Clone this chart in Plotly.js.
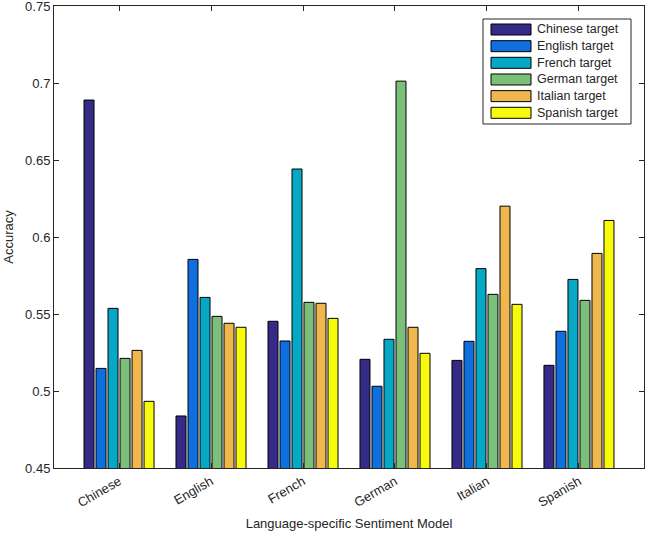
<!DOCTYPE html>
<html>
<head>
<meta charset="utf-8">
<script src="https://cdn.plot.ly/plotly-3.0.1.min.js"></script>
<style>
  html, body { margin: 0; padding: 0; background: #fff; }
  #plot { width: 647px; height: 533px; }
</style>
</head>
<body>
<div id="plot"></div>
<script>
// ── Data ──────────────────────────────────────────────────────────────────────
const models  = ['Chinese', 'English', 'French', 'German', 'Italian', 'Spanish'];
const targets = ['Chinese target', 'English target', 'French target',
                 'German target', 'Italian target', 'Spanish target'];

const chineseTarget = [0.689,  0.4838, 0.5453, 0.5206, 0.5199, 0.5167];
const englishTarget = [0.5147, 0.5855, 0.5325, 0.5031, 0.5323, 0.5388];
const frenchTarget  = [0.5537, 0.5608, 0.6442, 0.5336, 0.5795, 0.5725];
const germanTarget  = [0.5212, 0.5485, 0.5576, 0.7013, 0.5628, 0.5589];
const italianTarget = [0.5264, 0.5440, 0.5570, 0.5414, 0.6201, 0.5894];
const spanishTarget = [0.4933, 0.5414, 0.5472, 0.5245, 0.5563, 0.6108];

const yTicks = [0.45, 0.5, 0.55, 0.6, 0.65, 0.7, 0.75];

// ── Styling ───────────────────────────────────────────────────────────────────
const series = [chineseTarget, englishTarget, frenchTarget,
                germanTarget, italianTarget, spanishTarget];
const COLORS = ['#352a87', '#0f6fde', '#07a7c6', '#7cbf7b', '#efb74d', '#f8fa0d'];
const FONT   = 'Liberation Sans, Arial, sans-serif';
const INK    = '#262626';

const W = 647, H = 533;
const MARGIN = { l: 54, r: 3, t: 6, b: 65 };
const plotW = W - MARGIN.l - MARGIN.r;
const plotH = H - MARGIN.t - MARGIN.b;

// pixel -> paper helpers (used for the hand-built MATLAB-style legend)
const px = x => (x - MARGIN.l) / plotW;
const py = y => (H - MARGIN.b - y) / plotH;

// ── Traces ────────────────────────────────────────────────────────────────────
const xPos = models.map((_, i) => i + 1);
const traces = series.map((vals, i) => ({
  type: 'bar',
  x: xPos, y: vals,
  base: 0,
  name: targets[i],
  marker: { color: COLORS[i], line: { color: '#000', width: 1 } },
  showlegend: false,
  hoverinfo: 'y+name',
}));

// ── Legend (boxed, wide swatches) ─────────────────────────────────────────────
const shapes = [{
  type: 'rect', xref: 'paper', yref: 'paper',
  x0: px(483), x1: px(631), y0: py(124), y1: py(19),
  line: { color: INK, width: 1 }, fillcolor: '#fff', layer: 'above',
}];
const annotations = [];
targets.forEach((name, i) => {
  const cy = 29.5 + i * 16.66;
  shapes.push({
    type: 'rect', xref: 'paper', yref: 'paper',
    x0: px(491), x1: px(531), y0: py(cy + 5.5), y1: py(cy - 5.5),
    fillcolor: COLORS[i], line: { color: '#000', width: 1 }, layer: 'above',
  });
  annotations.push({
    xref: 'paper', yref: 'paper', x: px(535), y: py(cy),
    xanchor: 'left', yanchor: 'middle', showarrow: false,
    text: name, font: { family: FONT, size: 12.5, color: INK },
  });
});

// ── Layout ────────────────────────────────────────────────────────────────────
const axisCommon = {
  showline: true, linecolor: INK, linewidth: 1,
  mirror: 'ticks', ticks: 'inside', ticklen: 5, tickcolor: INK,
  showgrid: false, zeroline: false,
  ticklabeloverflow: 'allow',
  tickfont: { family: FONT, size: 13, color: INK },
};

const layout = {
  width: W, height: H,
  margin: MARGIN,
  paper_bgcolor: '#fff', plot_bgcolor: '#fff',
  barmode: 'group', bargap: 0.217, bargroupgap: 0.167,
  showlegend: false,
  xaxis: {
    ...axisCommon,
    range: [0.293, 6.707],
    tickvals: xPos, ticktext: models, tickangle: -30,
    title: { text: 'Language-specific Sentiment Model', standoff: 9,
             font: { family: FONT, size: 13, color: INK } },
  },
  yaxis: {
    ...axisCommon,
    range: [0.45, 0.7501],
    tickvals: yTicks, ticktext: yTicks.map(String),
    title: { text: 'Accuracy', standoff: 8,
             font: { family: FONT, size: 13, color: INK } },
  },
  shapes, annotations,
};

Plotly.newPlot('plot', traces, layout, { displayModeBar: false, staticPlot: true });
</script>
</body>
</html>
